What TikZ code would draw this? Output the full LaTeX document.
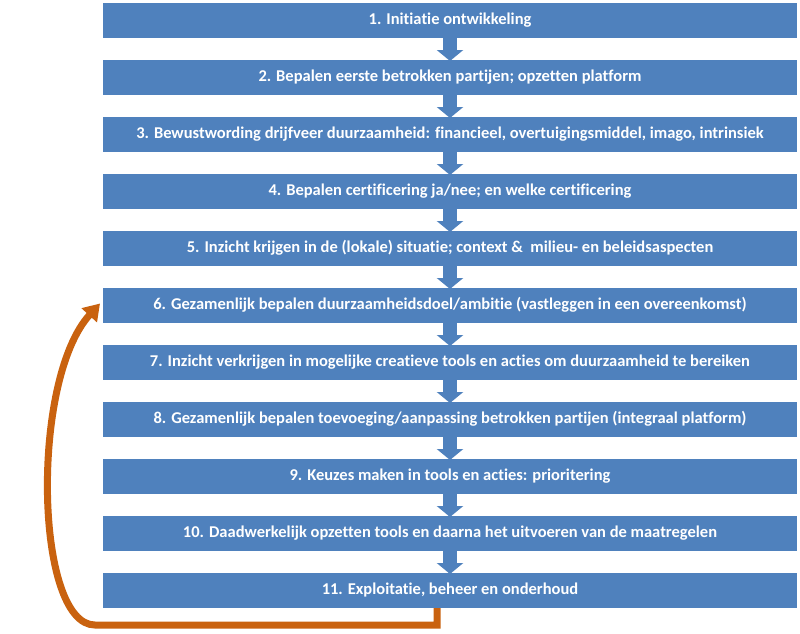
\documentclass[tikz,border=0pt]{standalone}
\usepackage{fontspec}
\setmainfont[Ligatures=NoCommon]{Carlito}
\usetikzlibrary{positioning,arrows.meta}
\definecolor{stepblue}{HTML}{4F81BD}
\definecolor{loopor}{HTML}{C9620F}
\tikzset{
  phase/.style={rectangle, fill=stepblue, minimum width=694pt, minimum height=35pt, inner sep=0pt, outer sep=0pt, text=white, text height=11pt, text depth=3pt, font=\fontsize{16.5}{18}\selectfont\bfseries},
  flow/.style={draw=stepblue, line width=14pt, -{Triangle[width=26pt,length=11pt]}, shorten >=-1pt},
  feedback/.style={draw=loopor, line width=7pt, -{Triangle[width=20pt,length=16pt]}}
}
\begin{document}
\begin{tikzpicture}[x=1pt, y=-1pt]
    \useasboundingbox (0,0) rectangle (800,633);
    \node [phase] (s1) at (450,20.5) {1. Initiatie ontwikkeling};
    \node [phase, below=22pt of s1] (s2) {2. Bepalen eerste betrokken partijen; opzetten platform};
    \node [phase, below=22pt of s2] (s3) {3. Bewustwording drijfveer duurzaamheid: financieel, overtuigingsmiddel, imago, intrinsiek};
    \node [phase, below=22pt of s3] (s4) {4. Bepalen certificering ja/nee; en welke certificering};
    \node [phase, below=22pt of s4] (s5) {5. Inzicht krijgen in de (lokale) situatie; context \&\ \ milieu- en beleidsaspecten};
    \node [phase, below=22pt of s5] (s6) {6. Gezamenlijk bepalen duurzaamheidsdoel/ambitie (vastleggen in een overeenkomst)};
    \node [phase, below=22pt of s6] (s7) {7. Inzicht verkrijgen in mogelijke creatieve tools en acties om duurzaamheid te bereiken};
    \node [phase, below=22pt of s7] (s8) {8. Gezamenlijk bepalen toevoeging/aanpassing betrokken partijen (integraal platform)};
    \node [phase, below=22pt of s8] (s9) {9. Keuzes maken in tools en acties: prioritering};
    \node [phase, below=22pt of s9] (s10) {10. Daadwerkelijk opzetten tools en daarna het uitvoeren van de maatregelen};
    \node [phase, below=22pt of s10] (s11) {11. Exploitatie, beheer en onderhoud};

    \draw [flow] (s1) -- (s2);
    \draw [flow] (s2) -- (s3);
    \draw [flow] (s3) -- (s4);
    \draw [flow] (s4) -- (s5);
    \draw [flow] (s5) -- (s6);
    \draw [flow] (s6) -- (s7);
    \draw [flow] (s7) -- (s8);
    \draw [flow] (s8) -- (s9);
    \draw [flow] (s9) -- (s10);
    \draw [flow] (s10) -- (s11);

    % terugkoppeling naar stap 6
    \coordinate (back) at (437,625);
    \coordinate (turn) at (95,625);
    \draw [feedback] (s11.south -| back) -- (back) -- (turn) .. controls (35,625) and (30,380) .. ([xshift=-3pt,yshift=2pt]s6.west);
\end{tikzpicture}
\end{document}
